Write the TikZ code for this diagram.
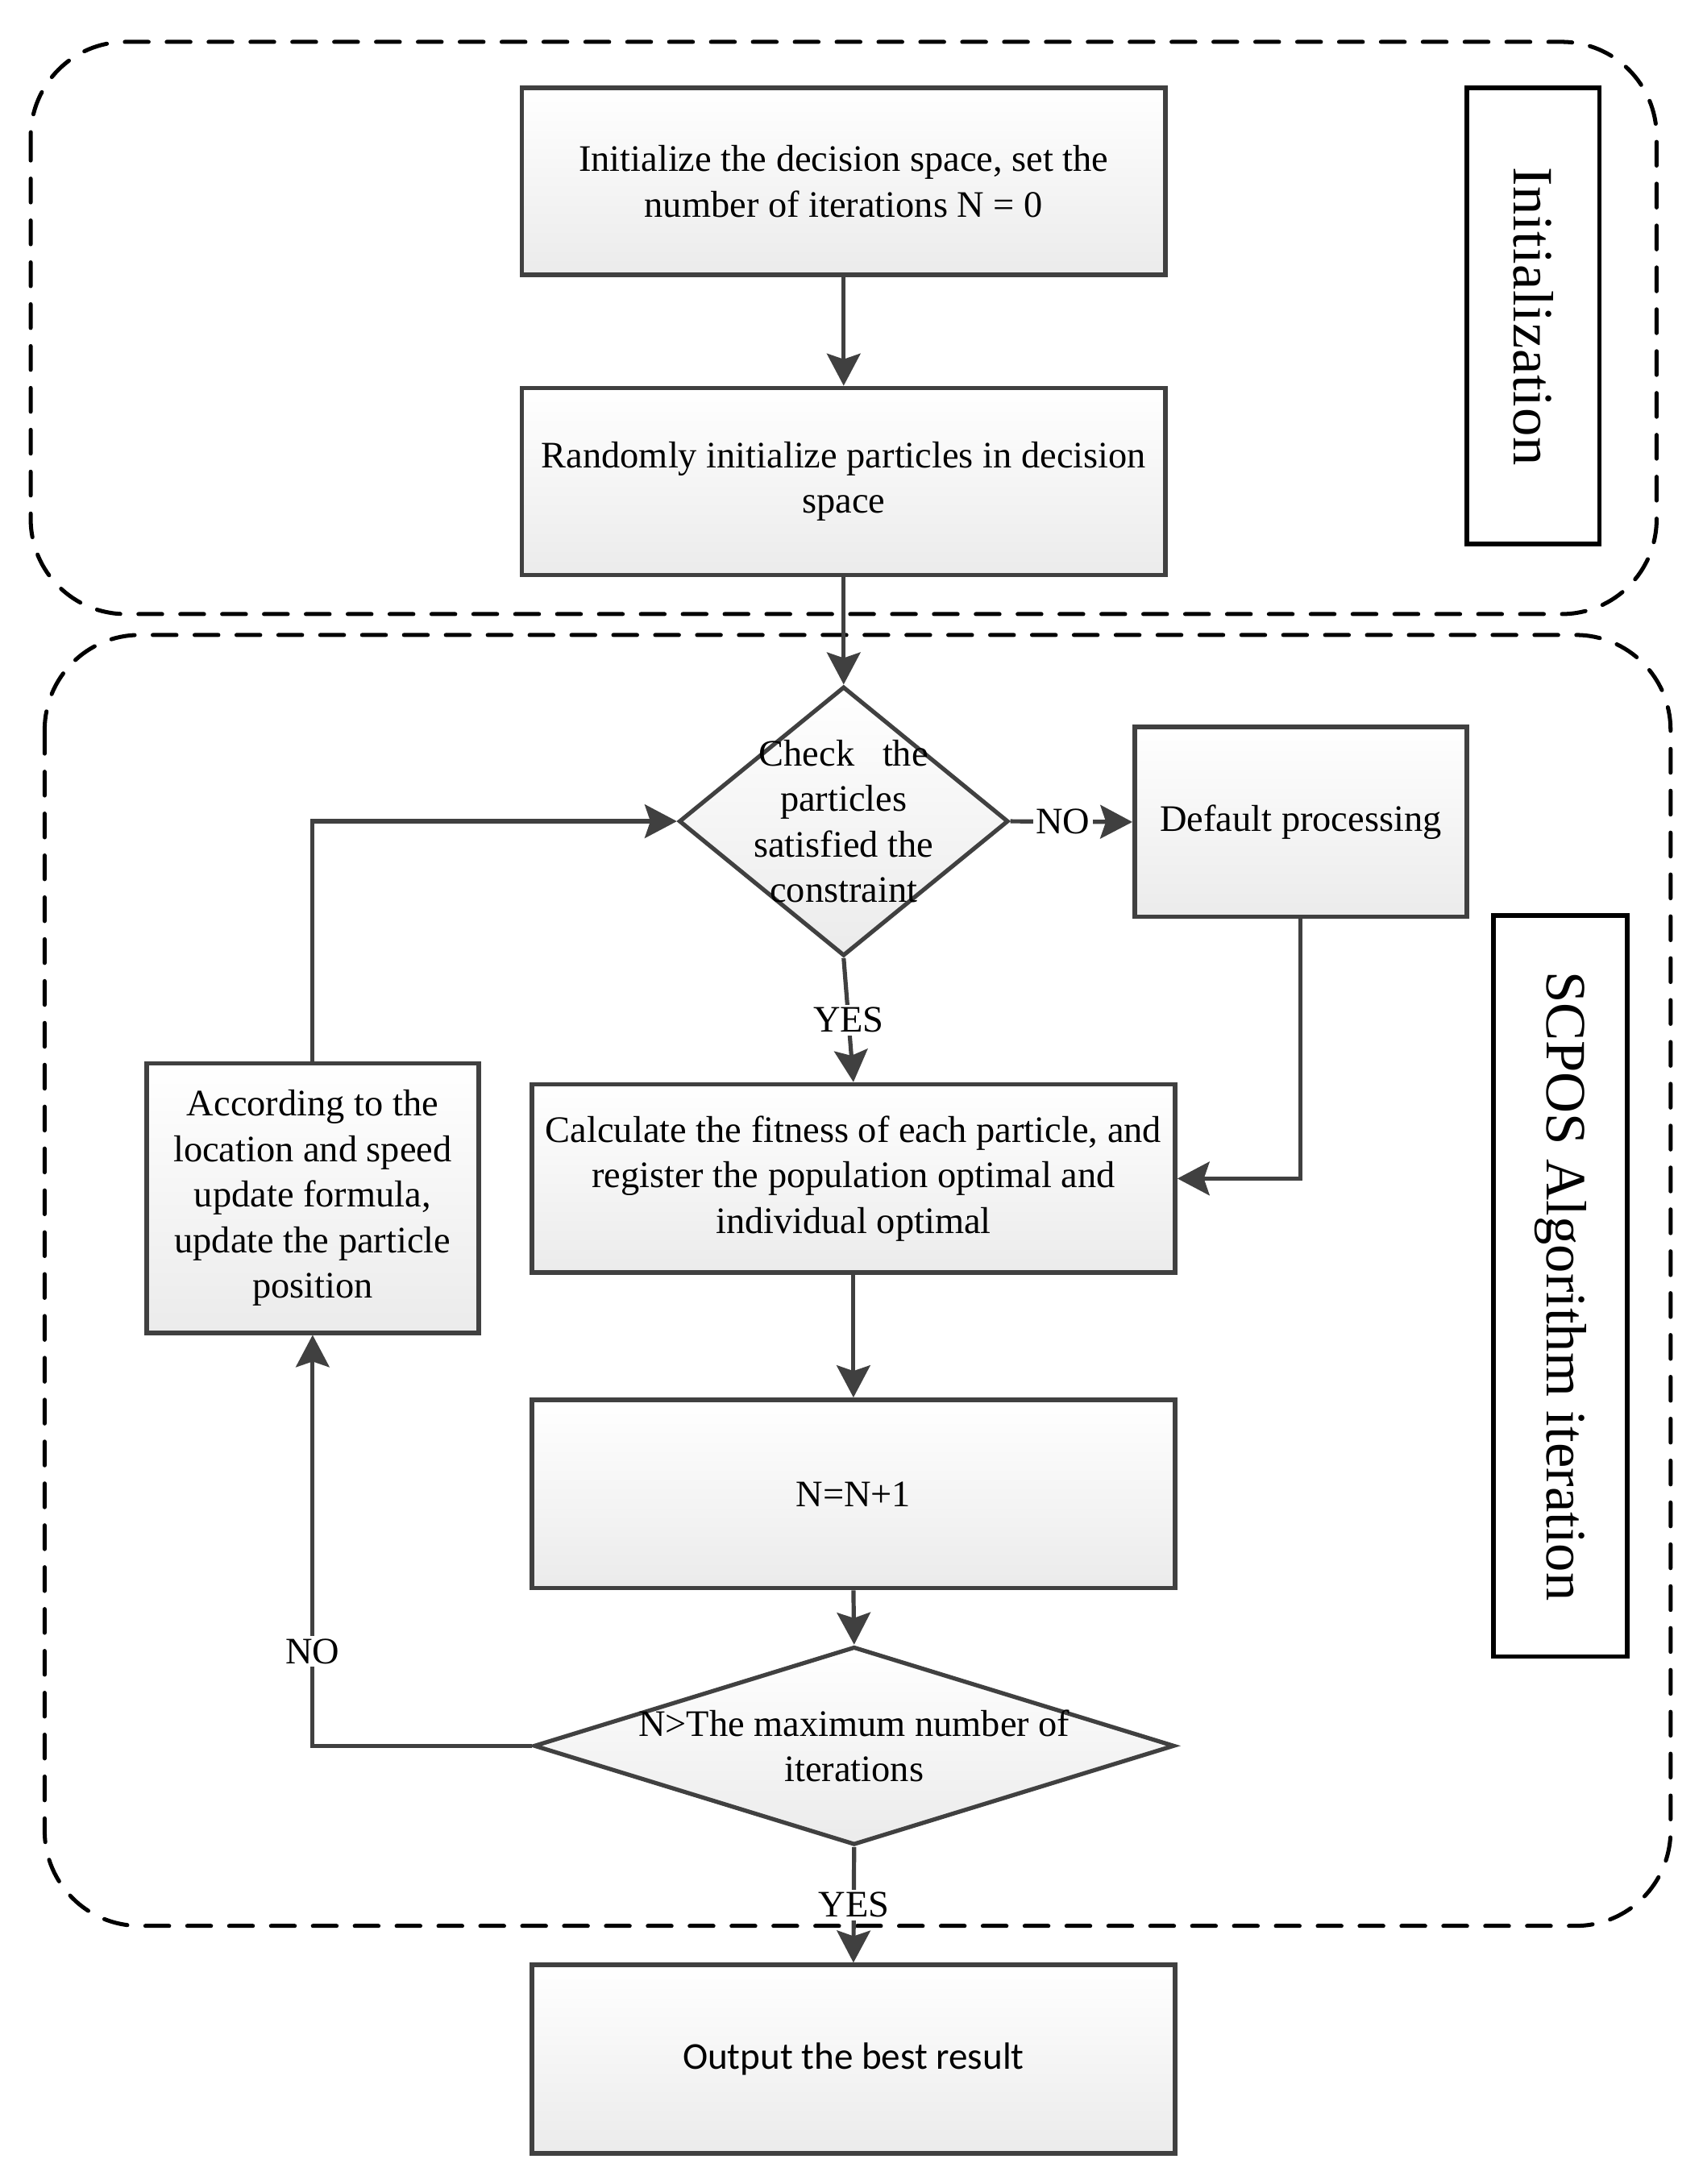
\documentclass[tikz,border=0pt]{standalone}
\usepackage{fontspec}
\setmainfont{Liberation Serif}
\newfontfamily\outfont{Carlito}
\usetikzlibrary{shapes.geometric,arrows.meta}
\definecolor{ln}{HTML}{404040}
\definecolor{bot}{HTML}{EBEBEB}
\newcommand{\mainsz}{\fontsize{13.4pt}{16.3pt}\selectfont}
\newcommand{\labsz}{\fontsize{20.4pt}{24pt}\selectfont}
\tikzset{
  proc/.style={draw=ln, line width=1.6pt, top color=white, bottom color=bot,
    inner sep=0pt, align=center, font=\mainsz},
  dec/.style={shape=diamond, draw=ln, line width=1.5pt, top color=white, bottom color=bot,
    inner sep=0pt},
  dectext/.style={align=center, font=\mainsz, inner sep=0pt},
  sidelab/.style={draw=black, line width=1.7pt, fill=white, inner sep=0pt, font=\labsz},
  group/.style={draw=black, line width=1.45pt, line cap=round, dash pattern=on 8.5pt off 6.5pt, rounded corners=34pt},
  arr/.style={draw=ln, line width=1.5pt, -{Stealth[length=11.5pt,width=12pt,inset=2pt]}},
  elab/.style={fill=white, inner sep=1pt, font=\mainsz}
}
\begin{document}
\begin{tikzpicture}[x=0.5pt,y=-0.5pt]
\useasboundingbox (0,0) rectangle (1220,1565);

% group outlines
\draw[group] (22,30) rectangle (1187,440);
\draw[group] (32,455) rectangle (1197,1380);

% side labels
\node[sidelab, minimum width=47.5pt, minimum height=163.5pt] (initlab) at (1098.5,226.5) {};
\node[rotate=-90, font=\labsz] (initlabt) at (initlab.center) {\addfontfeature{LetterSpace=1}Initialization};
\node[sidelab, minimum width=48pt, minimum height=265.5pt] (scplab) at (1118,921.5) {};
\node[rotate=-90, font=\labsz] (scplabt) at (scplab.center) {SCPOS Algorithm iteration};

% process boxes
\node[proc, minimum width=230.5pt, minimum height=67pt] (a) at (604.5,130)
  {Initialize the decision space, set the\\number of iterations N = 0};
\node[proc, minimum width=230.5pt, minimum height=67pt] (b) at (604.5,345)
  {Randomly initialize particles in decision\\space};
\node[dec, minimum width=118pt, minimum height=96.5pt] (d1) at (604.5,588.5) {};
\node[dectext] (d1t) at (d1.center) {Check\ \ \ the\\particles\\satisfied the\\constraint};
\node[proc, minimum width=119pt, minimum height=68pt] (def) at (932,589) {Default processing};
\node[proc, minimum width=230.5pt, minimum height=67.5pt] (calc) at (611.5,844.5)
  {Calculate the fitness of each particle, and\\register the population optimal and\\individual optimal};
\node[proc, minimum width=119pt, minimum height=96.5pt] (acc) at (224,858.5)
  {According to the\\location and speed\\update formula,\\update the particle\\position};
\node[proc, minimum width=230.5pt, minimum height=67.5pt] (nn) at (611.5,1070.5) {N=N+1};
\node[dec, minimum width=229.5pt, minimum height=71pt] (d2) at (612,1251) {};
\node[dectext] (d2t) at (d2.center) {N>The maximum number of\\iterations};
\node[proc, minimum width=230.5pt, minimum height=67.5pt] (out) at (611.5,1475.5)
  {\outfont\fontsize{13.6pt}{16pt}\selectfont Output the best result};

% connectors
\draw[arr] (a.south) -- (b.north);
\draw[arr] (b.south) -- (d1.north);
\draw[arr] (d1.east) -- node[elab, pos=0.43] {NO} (def.west);
\draw[arr] (d1.south) -- node[elab] {YES} (calc.north);
\draw[arr] (def.south) |- (calc.east);
\draw[arr] (calc.south) -- (nn.north);
\draw[arr] (nn.south) -- (d2.north);
\draw[arr] (d2.west) -| node[elab, pos=0.615] {NO} (acc.south);
\draw[arr] (acc.north) |- (d1.west);
\draw[arr] (d2.south) -- node[elab] {YES} (out.north);
\end{tikzpicture}
\end{document}
